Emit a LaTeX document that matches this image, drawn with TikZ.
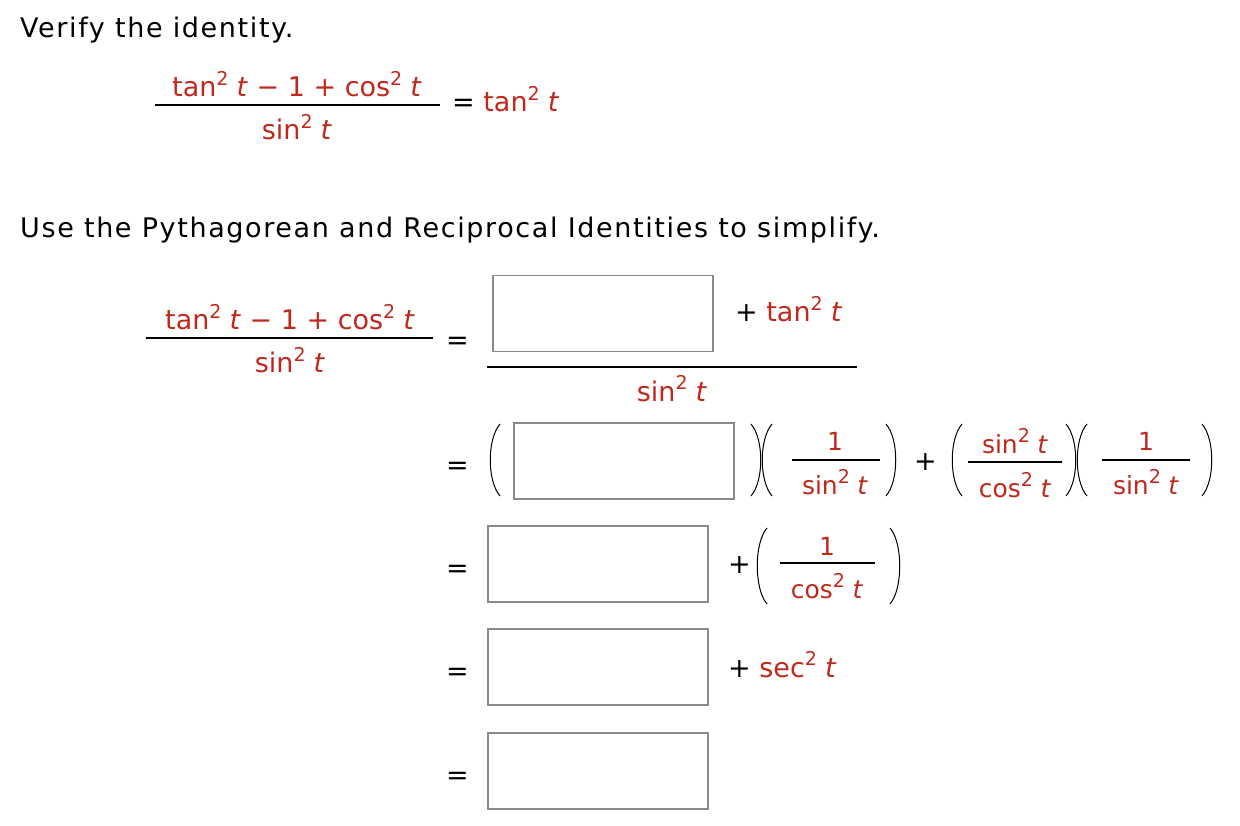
\documentclass[tikz,border=0pt]{standalone}
\usepackage{fontspec}
\setmainfont{DejaVu Sans}
\definecolor{rd}{HTML}{C0281C}
\definecolor{bx}{HTML}{8A8A8A}
\newcommand\sqd{\raisebox{0.42em}{\fontsize{19}{19}\selectfont 2}}
\newcommand\vt{\hspace{0.3em}\textit{t}}
\newcommand\tnq{tan\sqd\vt}
\newcommand\snq{sin\sqd\vt}
\newcommand\csq{cos\sqd\vt}
\newcommand\scq{sec\sqd\vt}
\tikzset{
  txt/.style={anchor=base west,inner sep=0,font=\fontsize{27}{30}\selectfont},
  head/.style={anchor=base west,inner sep=0,font=\fontsize{27}{30}\selectfont\addfontfeature{LetterSpace=6}},
  mth/.style={anchor=base,inner sep=0,font=\fontsize{27}{30}\selectfont,text=rd},
  sm/.style={anchor=base,inner sep=0,font=\fontsize{25}{28}\selectfont,text=rd},
  ansbox/.style={draw=bx,line width=1.5pt,fill=white},
  bar/.style={line width=1.2pt},
  par/.style={line width=1pt}
}
\newcommand\lp[3]{\draw[par] (#1,#2) .. controls (#1-13,#2+15) and (#1-13,#3-15) .. (#1,#3);}
\newcommand\rp[3]{\draw[par] (#1,#2) .. controls (#1+13,#2+15) and (#1+13,#3-15) .. (#1,#3);}
\begin{document}
\begin{tikzpicture}[x=1pt,y=-1pt]
\useasboundingbox (0,0) rectangle (1240,826);
\node[head] (h1) at (20,38) {Verify the identity.};
\node[mth] (n1) at (297,97) {\tnq\ − 1 + \csq};
\draw[bar] (155,105) -- (440,105);
\node[mth] (d1) at (297,140) {\snq};
\node[txt] (e1) at (452,112) {= \textcolor{rd}{\tnq}};
\node[head] (h2) at (20,238) {Use the Pythagorean and Reciprocal Identities to simplify.};
\node[mth] (n2) at (290,330) {\tnq\ − 1 + \csq};
\draw[bar] (146,338) -- (433,338);
\node[mth] (d2) at (290,373) {\snq};
\node[txt] (eq1) at (446,350) {=};
\node[ansbox,minimum width=220,minimum height=76,anchor=north west] (b1) at (492,275) {};
\node[txt] (p1) at (735,322) {+ \textcolor{rd}{\tnq}};
\draw[bar] (487,367) -- (857,367);
\node[mth] (d3) at (672,401) {\snq};
% row 2
\node[txt] (eq2) at (446,474) {=};
\lp{500}{424}{496}
\node[ansbox,minimum width=220,minimum height=76,anchor=north west] (b2) at (513,422) {};
\rp{751}{424}{496}\lp{772}{424}{496}
\node[sm] (f1n) at (835,450) {1};
\draw[bar] (792,460) -- (880,460);
\node[sm] (f1d) at (835,494) {\snq};
\rp{886}{424}{496}
\node[txt] (pl2) at (914,470) {+};
\lp{962}{424}{496}
\node[sm] (f2n) at (1015,453) {\snq};
\draw[bar] (968,462) -- (1062,462);
\node[sm] (f2d) at (1015,497) {\csq};
\rp{1066}{424}{496}\lp{1087}{424}{496}
\node[sm] (f3n) at (1146,450) {1};
\draw[bar] (1102,460) -- (1190,460);
\node[sm] (f3d) at (1146,494) {\snq};
\rp{1202}{424}{496}
% row 3
\node[txt] (eq3) at (446,577) {=};
\node[ansbox,minimum width=220,minimum height=76,anchor=north west] (b3) at (487,525) {};
\node[txt] (pl3) at (728,573) {+};
\lp{767}{528}{604}
\node[sm] (f4n) at (827,555) {1};
\draw[bar] (780,563) -- (875,563);
\node[sm] (f4d) at (827,598) {\csq};
\rp{890}{528}{604}
% row 4
\node[txt] (eq4) at (446,680) {=};
\node[ansbox,minimum width=220,minimum height=76,anchor=north west] (b4) at (487,628) {};
\node[txt] (p4) at (728,677) {+ \textcolor{rd}{\scq}};
% row 5
\node[txt] (eq5) at (446,784) {=};
\node[ansbox,minimum width=220,minimum height=76,anchor=north west] (b5) at (487,732) {};
\end{tikzpicture}
\end{document}
